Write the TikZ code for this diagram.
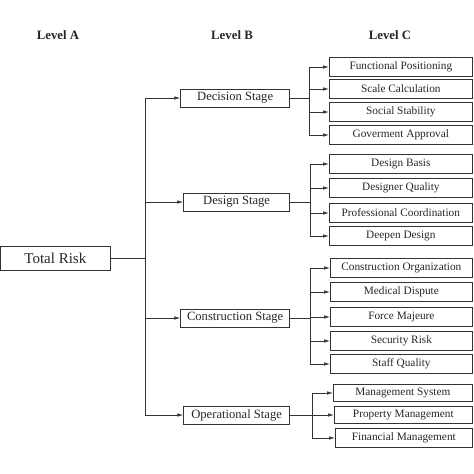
\documentclass[tikz,border=0pt]{standalone}
\usepackage{fontspec}
\setmainfont{Liberation Serif}
\usepackage{tikz}
\usetikzlibrary{arrows.meta}

\begin{document}
\begin{tikzpicture}[>={Latex[length=6pt,width=3.5pt]},x=1pt,y=-1pt,line width=0.7pt,draw=black!80,
  lvl/.style={font=\bfseries\fontsize{12.8}{14}\selectfont,text=black!85},
  totbox/.style={draw,anchor=west,minimum width=109pt,minimum height=24pt,inner sep=1pt,font=\fontsize{15}{16}\selectfont,text=black!85},
  stagebox/.style={draw,anchor=east,minimum height=18pt,inner sep=1pt,font=\fontsize{12.6}{14}\selectfont,text=black!85},
  riskbox/.style={draw,anchor=west,minimum height=19pt,inner sep=1pt,font=\fontsize{11.3}{12}\selectfont,text=black!85}]

\useasboundingbox (0,0) rectangle (474,474);

\node(lA) at (58,35)[lvl]{Level A};
\node(lB) at (232,35)[lvl]{Level B};
\node(lC) at (390,35)[lvl]{Level C};

\node(total) at (0.5,258)[totbox]{Total Risk};

\node(dec) at (290,98)[stagebox,minimum width=109pt]{Decision Stage};
\node(des) at (290,202)[stagebox,minimum width=106pt]{Design Stage};
\node(con) at (290,318)[stagebox,minimum width=109pt]{Construction Stage};
\node(ope) at (290,415)[stagebox,minimum width=106pt]{Operational Stage};

\node(fp) at (329,67)[riskbox,minimum width=143pt]{Functional Positioning};
\node(sc) at (329,89)[riskbox,minimum width=143pt]{Scale Calculation};
\node(ss) at (329,112)[riskbox,minimum width=143pt]{Social Stability};
\node(ga) at (329,135)[riskbox,minimum width=143pt]{Goverment Approval};

\node(db) at (329,164)[riskbox,minimum width=143pt]{Design Basis};
\node(dq) at (329,188)[riskbox,minimum width=143pt]{Designer Quality};
\node(pc) at (329,213)[riskbox,minimum width=143pt]{Professional Coordination};
\node(dd) at (329,236)[riskbox,minimum width=143pt]{Deepen Design};

\node(co) at (330,268)[riskbox,minimum width=142pt]{Construction Organization};
\node(md) at (330,292)[riskbox,minimum width=142pt]{Medical Dispute};
\node(fm) at (330,317)[riskbox,minimum width=142pt]{Force Majeure};
\node(sr) at (330,341)[riskbox,minimum width=142pt]{Security Risk};
\node(sq) at (330,364)[riskbox,minimum width=142pt]{Staff Quality};

\node(ms) at (333,393)[riskbox,minimum width=139pt,minimum height=17pt]{Management System};
\node(pm) at (334,415)[riskbox,minimum width=138pt,minimum height=17pt]{Property Management};
\node(fg) at (335,438)[riskbox,minimum width=137pt]{Financial Management};

% trunk and branch points
\coordinate(ta) at (145,258);
\coordinate(b1) at (309,98);
\coordinate(b2) at (310,202);
\coordinate(b3) at (310,318);
\coordinate(b4) at (312,415);

\draw (total) -- (ta);
\draw[->] (ta) |- (dec);
\draw[->] (ta) |- (des);
\draw[->] (ta) |- (con);
\draw[->] (ta) |- (ope);

\draw (dec) -- (b1);
\draw[->] (b1) |- (fp);
\draw[->] (b1) |- (sc);
\draw[->] (b1) |- (ss);
\draw[->] (b1) |- (ga);

\draw (des) -- (b2);
\draw[->] (b2) |- (db);
\draw[->] (b2) |- (dq);
\draw[->] (b2) |- (pc);
\draw[->] (b2) |- (dd);

\draw (con) -- (b3);
\draw[->] (b3) |- (co);
\draw[->] (b3) |- (md);
\draw[->] (b3) |- (fm);
\draw[->] (b3) |- (sr);
\draw[->] (b3) |- (sq);

\draw (ope) -- (b4);
\draw[->] (b4) |- (ms);
\draw[->] (b4) |- (pm);
\draw[->] (b4) |- (fg);

\end{tikzpicture}
\end{document}
